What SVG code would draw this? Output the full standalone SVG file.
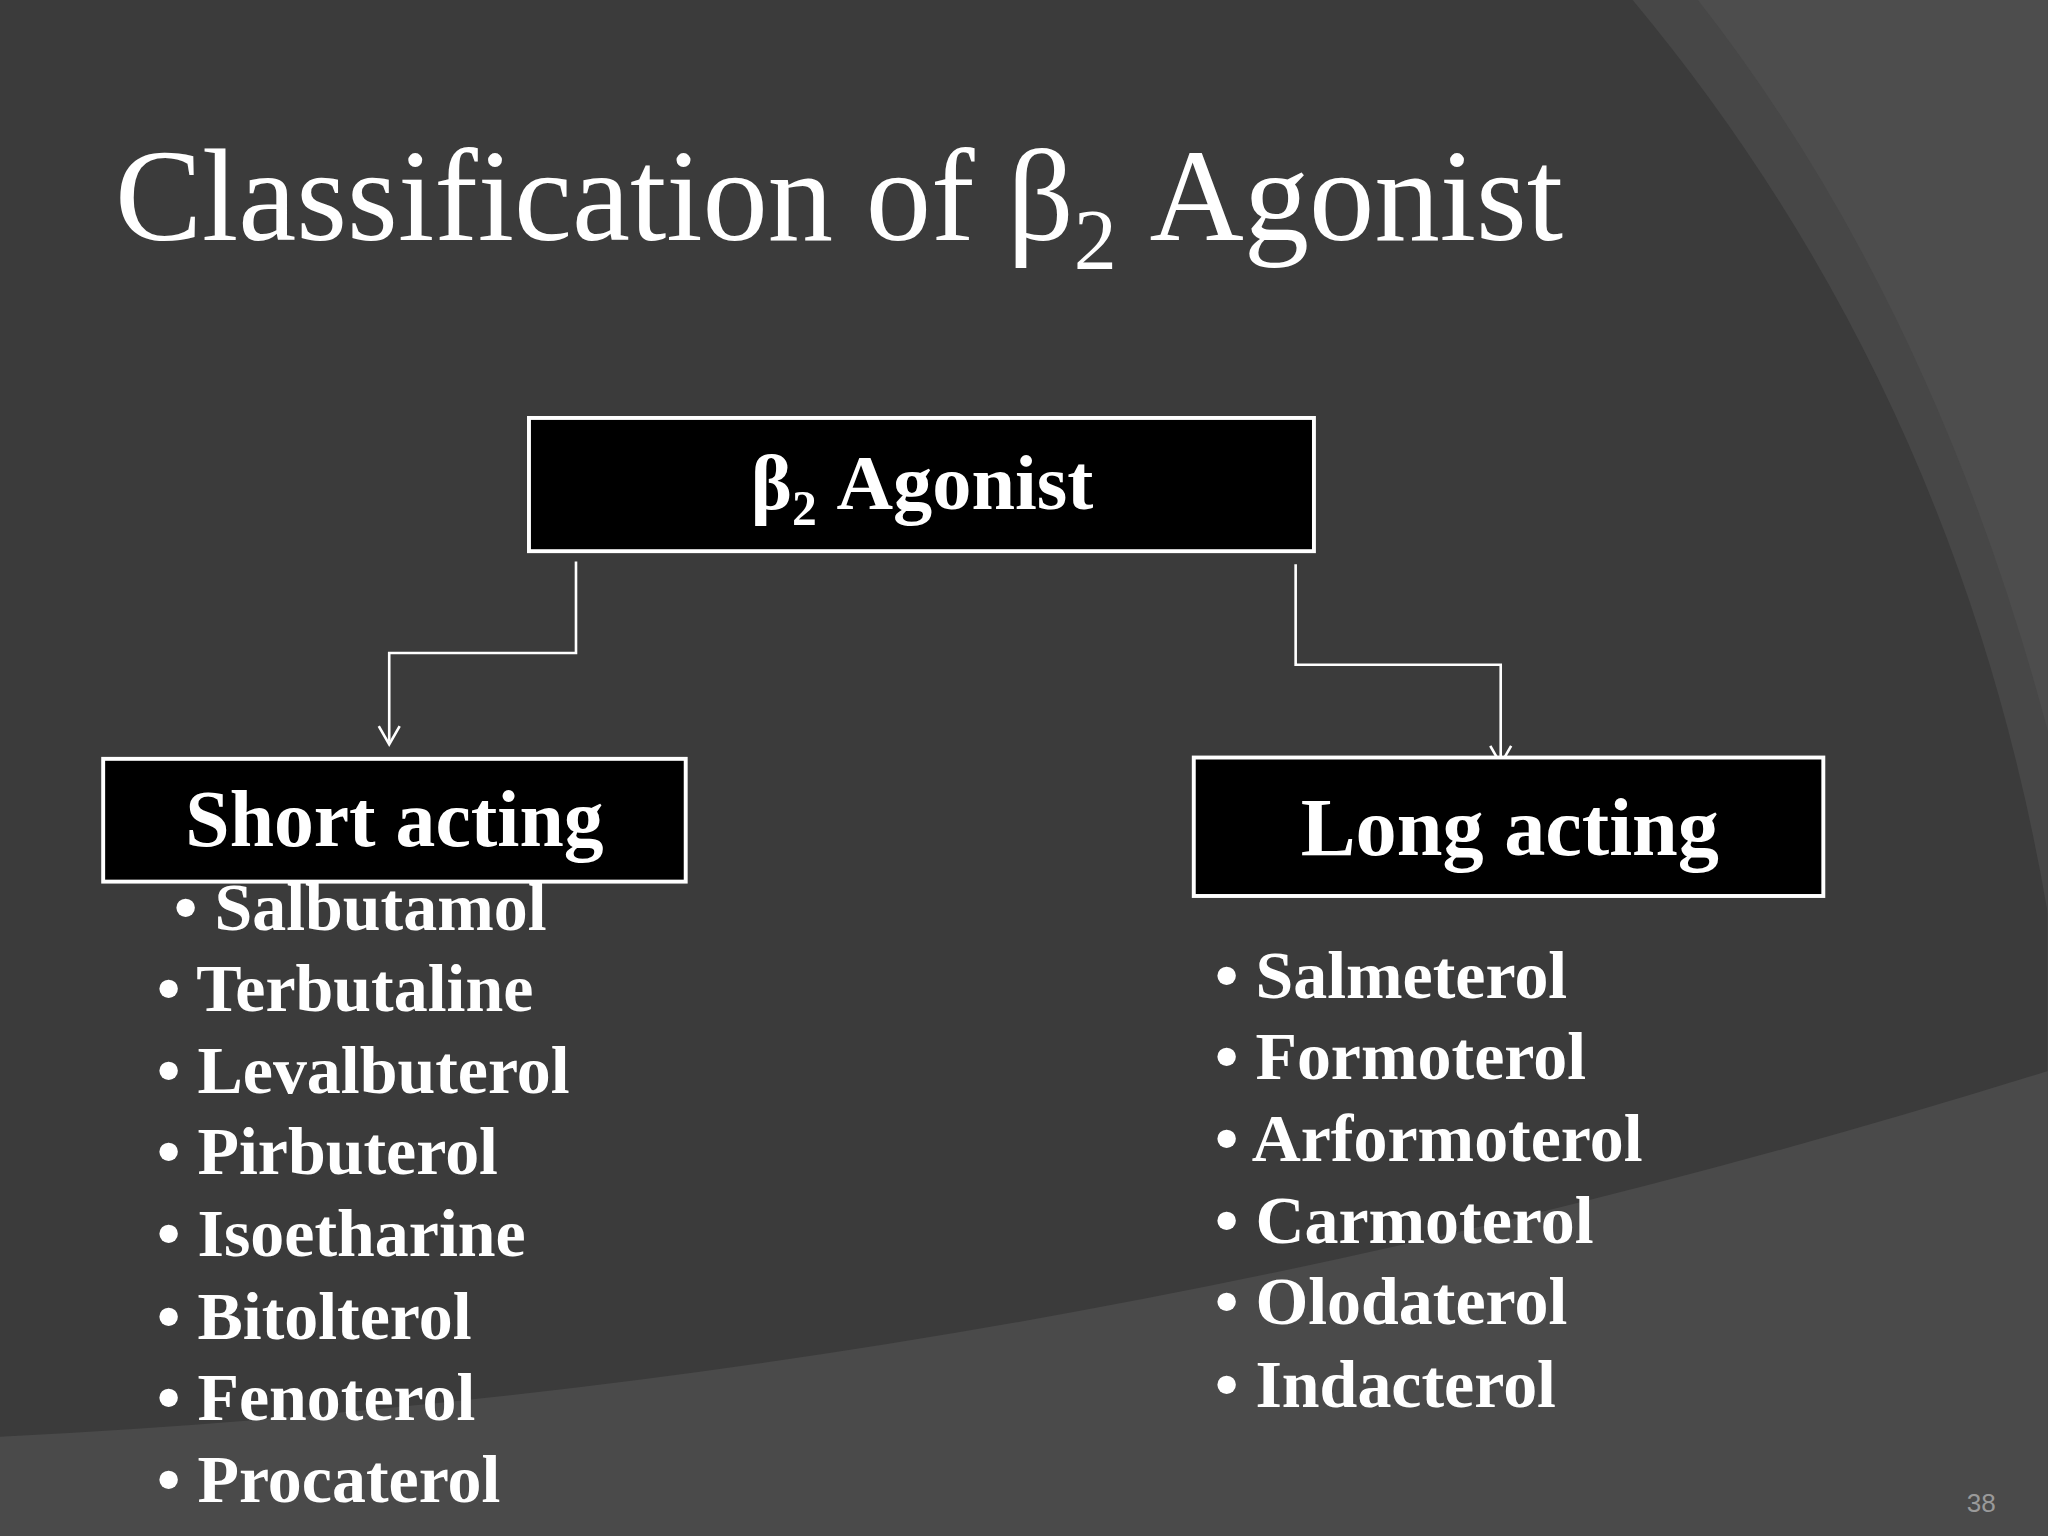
<svg xmlns="http://www.w3.org/2000/svg" width="2048" height="1536" viewBox="0 0 2048 1536">
<defs>
<style>
.box{fill:#000;stroke:#fff;stroke-width:3}
.hd{font-family:"Liberation Serif",serif;font-weight:bold;fill:#fff}
.it{font-family:"Liberation Serif",serif;font-weight:bold;fill:#fff;font-size:52px}
.con{fill:none;stroke:#fff;stroke-width:2}
</style>
</defs>
<g transform="scale(1.3061)">
<rect width="1568" height="1176" fill="#3b3b3b"/>
<path d="M1250 0 Q1500 300 1568 700 L1568 0 Z" fill="#474747"/>
<path d="M1300 0 Q1480 230 1568 560 L1568 0 Z" fill="#4d4d4d"/>
<path d="M0 1100 Q800 1060 1568 820 L1568 1176 L0 1176 Z" fill="#4a4a4a"/>
<text x="88" y="184" font-family="Liberation Serif,serif" font-size="100" fill="#fff">Classification of β<tspan font-size="66" dy="22">2</tspan><tspan dy="-22"> Agonist</tspan></text>
<g id="connectors">
<path class="con" d="M441 430 V500 H298 V568"/>
<path d="M290 556 L298 570 L306 556" class="con"/>
<path class="con" d="M992 432 V509 H1149 V583"/>
<path d="M1141 571 L1149 585 L1157 571" class="con"/>
</g>
<g id="root">
<rect class="box" x="405" y="320" width="601" height="102"/>
<text class="hd" x="706" y="390" font-size="60" text-anchor="middle">β<tspan font-size="38" dy="12">2</tspan><tspan dy="-12"> Agonist</tspan></text>
</g>
<g id="short">
<rect class="box" x="79" y="581" width="446" height="94"/>
<text class="hd" x="302" y="648" font-size="61" text-anchor="middle">Short acting</text>
<text class="it" x="133" y="712">• Salbutamol</text>
<text class="it" x="120" y="774">• Terbutaline</text>
<text class="it" x="120" y="837">• Levalbuterol</text>
<text class="it" x="120" y="899">• Pirbuterol</text>
<text class="it" x="120" y="962">• Isoetharine</text>
<text class="it" x="120" y="1025">• Bitolterol</text>
<text class="it" x="120" y="1087">• Fenoterol</text>
<text class="it" x="120" y="1150">• Procaterol</text>
</g>
<g id="long">
<rect class="box" x="914" y="580" width="482" height="106"/>
<text class="hd" x="1156" y="655" font-size="63" text-anchor="middle">Long acting</text>
<text class="it" x="930" y="764">• Salmeterol</text>
<text class="it" x="930" y="826">• Formoterol</text>
<text class="it" x="930" y="889">• Arformoterol</text>
<text class="it" x="930" y="952">• Carmoterol</text>
<text class="it" x="930" y="1014">• Olodaterol</text>
<text class="it" x="930" y="1077">• Indacterol</text>
</g>
<text x="1528" y="1158" font-family="Liberation Sans,sans-serif" font-size="20" fill="#9a9a9a" text-anchor="end">38</text>
</g>
</svg>
